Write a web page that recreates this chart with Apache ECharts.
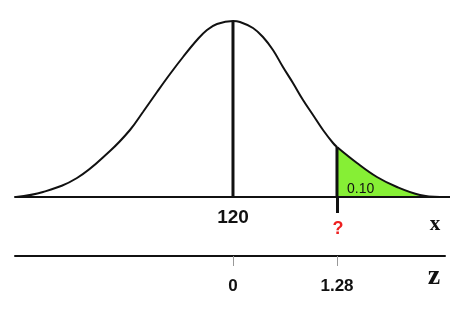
<!DOCTYPE html>
<html><head><meta charset="utf-8">
<script src="https://cdn.jsdelivr.net/npm/echarts@6/dist/echarts.min.js"></script>
<style>html,body{margin:0;padding:0;background:#fff}#c{width:450px;height:309px}</style>
</head><body><div id="c"></div>
<script>
// curve: z position and height above baseline (px units)
const curveZ = [-2.671, -2.338, -1.920, -1.514, -1.268, -1.108, -0.935, -0.775, -0.615, -0.443, -0.320, -0.197, 0, 0.086, 0.246, 0.369, 0.492, 0.615, 0.738, 0.862, 0.985, 1.108, 1.231, 1.28, 1.526, 1.772, 2.018, 2.302, 2.548];
const curveH = [0, 5, 19, 46, 67, 85, 105, 123, 140, 157, 167, 173, 176, 175, 169, 160, 147, 130, 114, 97, 82, 67, 54, 50, 34, 20, 10, 2, 0];
const meanZ = 0;
const cutoffZ = 1.28;
const tailLabel = '0.10';
const xTickValues = [0, 1.28];
const xTickLabels = ['120', '?'];
const zTickValues = [0, 1.28];
const zTickLabels = ['0', '1.28'];

const leftPts = [], rightPts = [];
curveZ.forEach((z, i) => {
  if (z <= cutoffZ) leftPts.push([z, curveH[i]]);
  if (z >= cutoffZ) rightPts.push([z, curveH[i]]);
});
const peakH = curveH[curveZ.indexOf(meanZ)];
const cutH = curveH[curveZ.indexOf(cutoffZ)];

const chart = echarts.init(document.getElementById('c'), null, {renderer: 'canvas'});
const ink = '#111';
chart.setOption({
  animation: false,
  backgroundColor: '#fff',
  grid: [
    {left: 15, right: 0, top: 21, bottom: 112},
    {left: 15, right: 5, top: 200, bottom: 53}
  ],
  xAxis: [
    {
      type: 'value', gridIndex: 0, min: -2.683, max: 2.671, z: 10,
      splitLine: {show: false},
      axisLine: {lineStyle: {color: ink, width: 2}},
      axisTick: {customValues: [cutoffZ], length: 16, lineStyle: {color: ink, width: 3}},
      axisLabel: {
        customValues: xTickValues, margin: 11,
        formatter: v => {
          const i = xTickValues.indexOf(v);
          return i === 1 ? '{q|' + xTickLabels[i] + '}' : '{a|' + xTickLabels[i] + '}';
        },
        rich: {
          a: {fontSize: 19, fontWeight: 'bold', color: ink, fontFamily: 'Liberation Sans'},
          q: {fontSize: 18, fontWeight: 'bold', color: '#ee2020', fontFamily: 'Liberation Sans', padding: [12, 0, 0, 2]}
        }
      }
    },
    {
      type: 'value', gridIndex: 1, min: -2.683, max: 2.609,
      splitLine: {show: false},
      axisLine: {lineStyle: {color: ink, width: 2}},
      axisTick: {customValues: zTickValues, length: 10, lineStyle: {color: '#999', width: 1}},
      axisLabel: {
        customValues: zTickValues, margin: 22,
        formatter: v => zTickLabels[zTickValues.indexOf(v)],
        fontSize: 17, fontWeight: 'bold', color: ink, fontFamily: 'Liberation Sans'
      }
    }
  ],
  yAxis: [
    {type: 'value', gridIndex: 0, min: 0, max: 176, show: false},
    {type: 'value', gridIndex: 1, min: 0, max: 1, show: false}
  ],
  series: [
    {
      type: 'line', data: rightPts, smooth: 0.4, symbol: 'none',
      lineStyle: {color: ink, width: 2},
      areaStyle: {color: '#86ef35', opacity: 1}, z: 2
    },
    {
      type: 'line', data: leftPts, smooth: 0.4, symbol: 'none',
      lineStyle: {color: ink, width: 2}, z: 3
    },
    {
      type: 'line', data: [[meanZ, 0], [meanZ, peakH]], symbol: 'none',
      lineStyle: {color: ink, width: 3}, z: 4
    },
    {
      type: 'line', data: [[cutoffZ, 0], [cutoffZ, cutH]], symbol: 'none',
      lineStyle: {color: ink, width: 3}, z: 4
    }
  ],
  graphic: [
    {type: 'text', x: 347, y: 189, z: 20, style: {text: tailLabel, fill: ink, font: '14px "Liberation Sans"', align: 'left', verticalAlign: 'middle'}},
    {type: 'text', x: 435, y: 225, z: 20, style: {text: 'x', fill: ink, font: 'bold 21px "Liberation Serif"', align: 'center', verticalAlign: 'middle'}},
    {type: 'text', x: 434, y: 277, z: 20, style: {text: 'z', fill: ink, font: 'bold 28px "Liberation Serif"', align: 'center', verticalAlign: 'middle'}}
  ]
});
</script>
</body></html>
